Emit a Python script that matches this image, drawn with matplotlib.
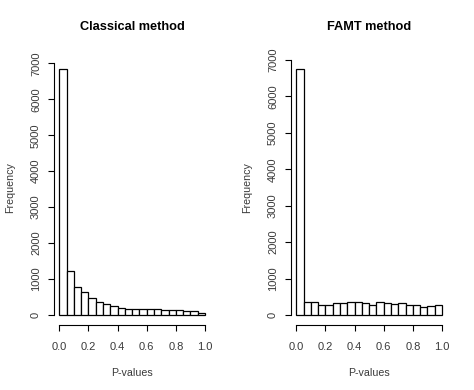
import numpy as np
import matplotlib.pyplot as plt

plt.rcParams['font.family'] = ['Liberation Sans', 'DejaVu Sans']

# histogram bin edges (20 bins of width 0.05)
bin_edges = np.linspace(0, 1, 21)

# counts per bin
classical_counts = [6840, 1224, 779, 631, 464, 353, 315, 260, 204, 158,
                    158, 158, 158, 158, 130, 130, 130, 120, 100, 65]
famt_counts = [6750, 343, 343, 287, 287, 315, 315, 362, 362, 334,
               287, 362, 324, 297, 315, 260, 269, 213, 241, 260]

titles = ["Classical method", "FAMT method"]
x_ticks = [0.0, 0.2, 0.4, 0.6, 0.8, 1.0]
y_ticks = [0, 1000, 2000, 3000, 4000, 5000, 6000, 7000]

W, H = 474, 390
fig = plt.figure(figsize=(W / 100, H / 100), dpi=100)
# plot regions in pixels: left, right, top, bottom
regions = [(53.5, 210.8, 59.3, 324.8), (290.5, 447.8, 59.3, 324.8)]
label_col = '#3a3a3a'

for (l, r, t, b), counts, title in zip(regions, [classical_counts, famt_counts], titles):
    ax = fig.add_axes([l / W, 1 - b / H, (r - l) / W, (b - t) / H])
    widths = np.diff(bin_edges)
    ax.bar(bin_edges[:-1], counts, width=widths, align='edge',
           color='white', edgecolor='black', linewidth=0.9)
    top = max(counts)
    ax.set_xlim(-0.04, 1.04)
    ax.set_ylim(-0.04 * top, 1.04 * top)
    for s in ['top', 'right']:
        ax.spines[s].set_visible(False)
    ax.spines['left'].set_bounds(0, 7000)
    ax.spines['bottom'].set_bounds(0, 1)
    ax.spines['left'].set_linewidth(0.8)
    ax.spines['bottom'].set_linewidth(0.8)
    ax.set_xticks(x_ticks)
    ax.set_xticklabels(['%.1f' % v for v in x_ticks])
    ax.set_yticks(y_ticks)
    ax.set_yticklabels([str(v) for v in y_ticks], rotation=90, va='center')
    ax.tick_params(direction='out', length=4, width=0.8, labelsize=8,
                   color='black', labelcolor=label_col)
    ax.tick_params(axis='x', pad=8.5)
    ax.tick_params(axis='y', pad=5)
    cx = (l + r) / 2
    fig.text(cx / W, 1 - 27.5 / H, title, fontsize=9.2, fontweight='bold',
             ha='center', va='center')
    fig.text(cx / W, 1 - 372.5 / H, "P-values", fontsize=7.7, color=label_col,
             ha='center', va='center')
    fig.text((l - 43.5) / W, 1 - 188 / H, "Frequency", fontsize=7.7,
             color=label_col, rotation=90, ha='center', va='center')

fig.savefig("out.png", dpi=100)
